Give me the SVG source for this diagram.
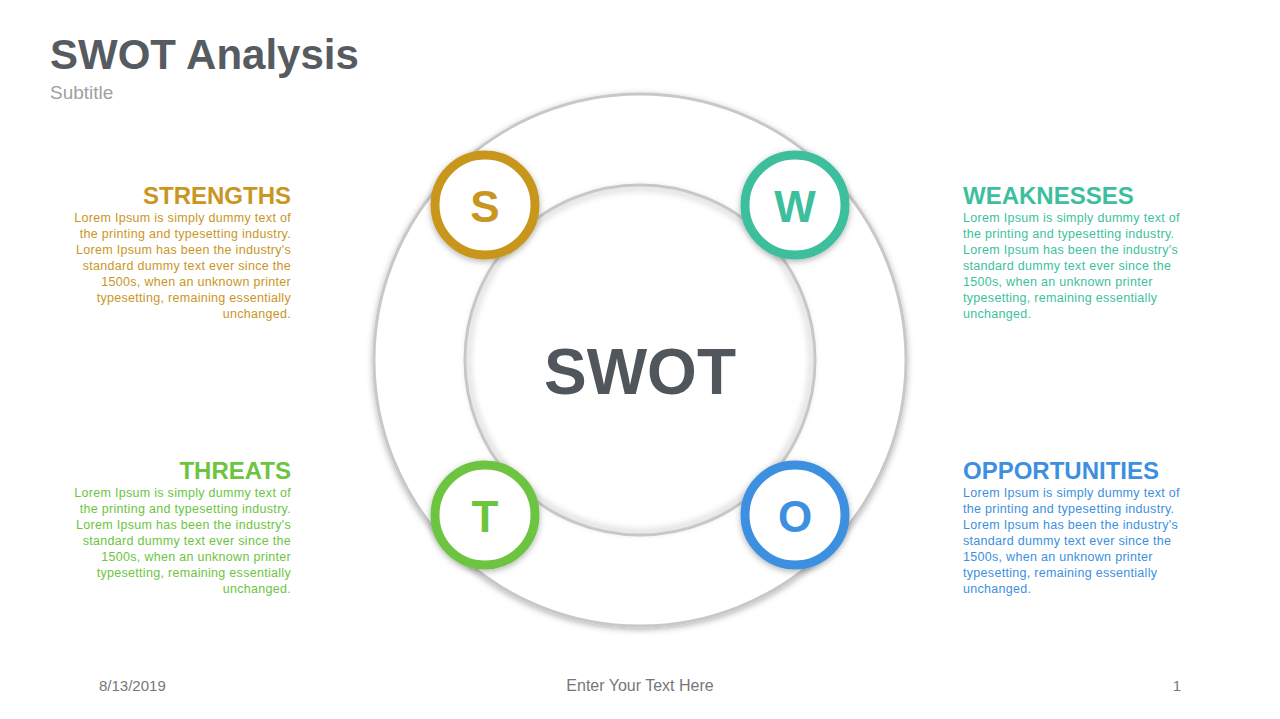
<svg xmlns="http://www.w3.org/2000/svg" width="1280" height="719" viewBox="0 0 1280 719">
<defs>
<filter id="sh" x="-20%" y="-20%" width="140%" height="140%"><feDropShadow dx="0" dy="2" stdDeviation="3" flood-color="#000" flood-opacity="0.3"/></filter>
<filter id="ish" x="-20%" y="-20%" width="140%" height="140%"><feGaussianBlur stdDeviation="3"/></filter>
</defs>
<style>
text{font-family:"Liberation Sans",Arial,sans-serif}
.h{font-size:24px;font-weight:bold}
.b{font-size:12.5px;letter-spacing:0.3px}
</style>
<rect width="1280" height="719" fill="#fff"/>
<text x="50" y="69" font-size="42" font-weight="bold" fill="#555b61">SWOT Analysis</text>
<text x="50" y="99" font-size="19" fill="#a0a0a0">Subtitle</text>
<g id="ring">
<circle cx="640" cy="360" r="266" fill="#fff" stroke="#c8c8c8" stroke-width="3" filter="url(#sh)"/>
<circle cx="640" cy="360" r="175" fill="#fff" stroke="#bdbdbd" stroke-width="3"/>
<circle cx="640" cy="360" r="172" fill="none" stroke="#d8d8d8" stroke-width="5" filter="url(#ish)"/>
<text x="640" y="394" text-anchor="middle" font-size="64" font-weight="bold" fill="#50565c">SWOT</text>
</g>
<g id="S"><circle cx="485" cy="205" r="50" fill="#fff" stroke="#c9961f" stroke-width="9" filter="url(#sh)"/><text x="485" y="222" text-anchor="middle" font-size="44" font-weight="bold" fill="#c9961f">S</text></g>
<g id="W"><circle cx="795" cy="205" r="50" fill="#fff" stroke="#3dbf9e" stroke-width="9" filter="url(#sh)"/><text x="795" y="222" text-anchor="middle" font-size="44" font-weight="bold" fill="#3dbf9e">W</text></g>
<g id="T"><circle cx="485" cy="515" r="50" fill="#fff" stroke="#6dc43f" stroke-width="9" filter="url(#sh)"/><text x="485" y="532" text-anchor="middle" font-size="44" font-weight="bold" fill="#6dc43f">T</text></g>
<g id="O"><circle cx="795" cy="515" r="50" fill="#fff" stroke="#3d8fe0" stroke-width="9" filter="url(#sh)"/><text x="795" y="532" text-anchor="middle" font-size="44" font-weight="bold" fill="#3d8fe0">O</text></g>
<g id="strengths" fill="#c9961f" text-anchor="end">
<text class="h" x="291" y="204">STRENGTHS</text>
<text class="b" x="291" y="222">Lorem Ipsum is simply dummy text of</text>
<text class="b" x="291" y="238">the printing and typesetting industry.</text>
<text class="b" x="291" y="254">Lorem Ipsum has been the industry's</text>
<text class="b" x="291" y="270">standard dummy text ever since the</text>
<text class="b" x="291" y="286">1500s, when an unknown printer</text>
<text class="b" x="291" y="302">typesetting, remaining essentially</text>
<text class="b" x="291" y="318">unchanged.</text>
</g>
<g id="threats" fill="#6dc43f" text-anchor="end">
<text class="h" x="291" y="479">THREATS</text>
<text class="b" x="291" y="497">Lorem Ipsum is simply dummy text of</text>
<text class="b" x="291" y="513">the printing and typesetting industry.</text>
<text class="b" x="291" y="529">Lorem Ipsum has been the industry's</text>
<text class="b" x="291" y="545">standard dummy text ever since the</text>
<text class="b" x="291" y="561">1500s, when an unknown printer</text>
<text class="b" x="291" y="577">typesetting, remaining essentially</text>
<text class="b" x="291" y="593">unchanged.</text>
</g>
<g id="weaknesses" fill="#3dbf9e">
<text class="h" x="963" y="204">WEAKNESSES</text>
<text class="b" x="963" y="222">Lorem Ipsum is simply dummy text of</text>
<text class="b" x="963" y="238">the printing and typesetting industry.</text>
<text class="b" x="963" y="254">Lorem Ipsum has been the industry's</text>
<text class="b" x="963" y="270">standard dummy text ever since the</text>
<text class="b" x="963" y="286">1500s, when an unknown printer</text>
<text class="b" x="963" y="302">typesetting, remaining essentially</text>
<text class="b" x="963" y="318">unchanged.</text>
</g>
<g id="opportunities" fill="#3d8fe0">
<text class="h" x="963" y="479">OPPORTUNITIES</text>
<text class="b" x="963" y="497">Lorem Ipsum is simply dummy text of</text>
<text class="b" x="963" y="513">the printing and typesetting industry.</text>
<text class="b" x="963" y="529">Lorem Ipsum has been the industry's</text>
<text class="b" x="963" y="545">standard dummy text ever since the</text>
<text class="b" x="963" y="561">1500s, when an unknown printer</text>
<text class="b" x="963" y="577">typesetting, remaining essentially</text>
<text class="b" x="963" y="593">unchanged.</text>
</g>
<g id="footer" fill="#777">
<text x="99" y="691" font-size="15">8/13/2019</text>
<text x="640" y="691" font-size="16" text-anchor="middle">Enter Your Text Here</text>
<text x="1181" y="691" font-size="15" text-anchor="end">1</text>
</g>
</svg>
